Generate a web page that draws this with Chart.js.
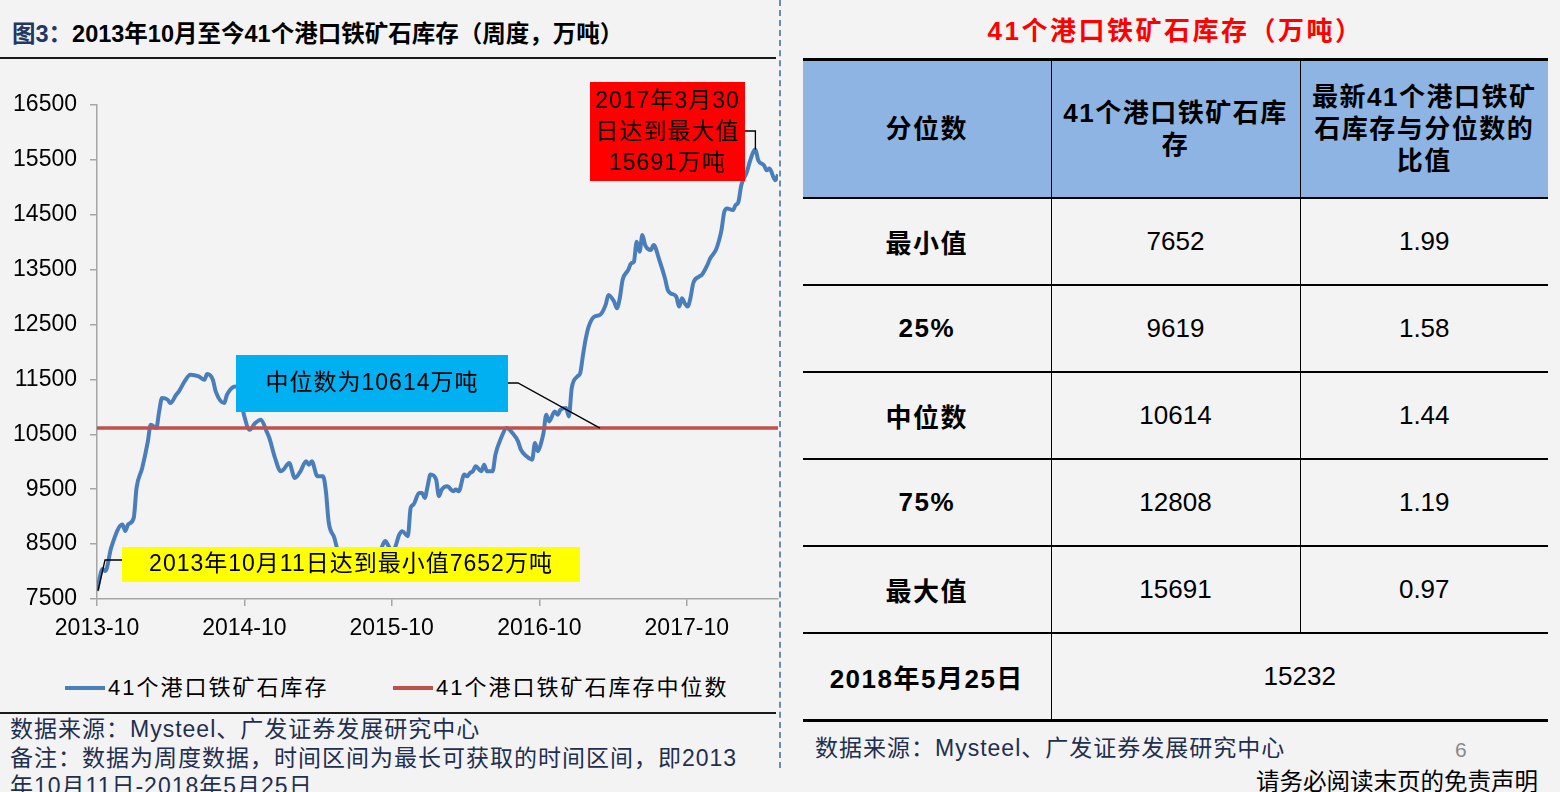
<!DOCTYPE html>
<html><head><meta charset="utf-8">
<script src="https://cdn.jsdelivr.net/npm/chart.js@4.4.1/dist/chart.umd.min.js"></script>
<style>
body{margin:0;width:1560px;height:792px;background:#f3f3f3;position:relative;overflow:hidden;font-family:"Liberation Sans",Arial,"Noto Sans CJK SC",sans-serif;color:#000;}
.abs{position:absolute;white-space:nowrap;}
#title{left:12px;top:15px;font-size:23.5px;font-weight:bold;}
#title .fig{color:#1f3864;}
.hline{position:absolute;height:2px;background:#1a1a1a;}
#vdash{position:absolute;left:779px;top:0;height:768px;border-left:2px dashed #6a8bb5;}
.src{font-size:23px;color:#1f2f4f;letter-spacing:1px;}
#chartBox{position:absolute;left:0;top:60px;width:780px;height:610px;}
.legItem{position:absolute;top:675px;font-size:22px;height:26px;line-height:26px;letter-spacing:2px;}
.legItem .sw{position:absolute;top:11px;width:40px;height:4px;}
#rtitle{left:803px;width:745px;top:10px;text-align:center;font-size:26px;font-weight:bold;color:#ff0000;letter-spacing:2.5px;}
table{position:absolute;left:803px;top:58px;width:745px;border-collapse:collapse;table-layout:fixed;}
td{padding:0;text-align:center;vertical-align:middle;border-left:1.5px solid #000;border-right:1.5px solid #000;border-top:2px solid #000;border-bottom:2px solid #000;font-size:26px;}
tr td:first-child{border-left:none;}
tr td:last-child{border-right:none;}
tr.head td{background:#8db4e2;font-weight:bold;height:136px;line-height:32px;letter-spacing:1.5px;border-top:3px solid #000;border-bottom:2.5px solid #000;}
tr.body td{height:85px;}
tr.last td{border-bottom:3px solid #000;}
td.lab{font-weight:bold;letter-spacing:1.5px;}
</style></head><body>
<div id="vdash"></div>
<div class="abs" id="title"><span class="fig">图3：</span>2013年10月至今41个港口铁矿石库存（周度，万吨）</div>
<div class="hline" style="left:0;top:57px;width:776px;"></div>
<div id="chartBox"><canvas id="c" width="780" height="610"></canvas></div>
<div id="legend"></div>
<div class="hline" style="left:0;top:712px;width:776px;"></div>
<div class="abs src" style="left:10px;top:710px;">数据来源：Mysteel、广发证券发展研究中心</div>
<div class="abs src" style="left:10px;top:739px;">备注：数据为周度数据，时间区间为最长可获取的时间区间，即2013</div>
<div class="abs src" style="left:10px;top:767px;">年10月11日-2018年5月25日</div>

<div class="abs" id="rtitle">41个港口铁矿石库存（万吨）</div>
<table id="tbl"></table>
<div class="abs src" style="left:815px;top:729px;">数据来源：Mysteel、广发证券发展研究中心</div>
<div class="abs" style="left:1455px;top:738px;font-size:21px;color:#8a8a8a;">6</div>
<div class="abs" style="left:1256px;top:763px;font-size:23.5px;">请务必阅读末页的免责声明</div>

<script>
// ---- data ----
// weeks since 2013-10-11 (weekly data, last point 2018-05-25)
const weekNo = [0,2,3,5,9,10,11,13,14,16,18,19,21,22,23,25,26,28,29,31,33,36,38,39,41,42,45,46,49,50,52,54,56,58,60,61,63,65,66,68,70,72,74,75,76,78,80,81,82,84,85,88,91,95,98,100,102,104,105,107,108,110,111,112,114,115,116,117,118,120,121,122,124,126,127,128,130,131,132,133,134,136,137,138,140,141,143,145,147,149,150,152,154,155,156,157,158,159,160,162,163,164,166,167,168,170,171,172,173,174,176,178,180,181,183,184,185,186,188,189,190,191,192,193,194,196,197,199,201,202,203,205,206,207,208,209,210,211,213,214,216,217,219,220,221,222,223,225,226,227,228,230,231,233,234,236,237,238,240,241];
const inventory = [7652,8045,8010,8433,8858,8740,8858,8979,9524,9888,10373,10676,10615,10918,11160,11130,11070,11221,11282,11464,11585,11555,11494,11597,11494,11282,11070,11221,11373,11350,10858,10585,10706,10767,10555,10433,10070,9827,9858,9979,9706,9827,10009,9948,10009,9736,9736,9464,8900,8615,8420,8200,8050,8100,8250,8350,8555,8409,8409,8676,8736,8645,9161,9221,9433,9433,9342,9555,9767,9676,9373,9494,9555,9464,9494,9464,9767,9736,9797,9827,9918,9827,9948,9827,9827,10130,10433,10615,10524,10373,10221,10100,10039,10342,10191,10312,10520,10858,10736,10918,10858,10948,10979,10827,11343,11555,11615,11948,12252,12464,12645,12676,12858,13039,12918,12797,12979,13312,13494,13615,13645,14009,13827,14130,13948,13858,13948,13676,13342,13130,13070,13009,12827,12979,12888,12827,12979,13252,13373,13403,13585,13706,13858,14009,14221,14555,14615,14585,14676,14736,15039,15282,15464,15691,15494,15403,15312,15342,15130,15232];
const medianValue = 10614;
const seriesNames = ['41个港口铁矿石库存','41个港口铁矿石库存中位数'];
const xTickWeeks = [0, 52.14, 104.29, 156.57, 208.71];
const xTickLabels = ['2013-10','2014-10','2015-10','2016-10','2017-10'];
const yMin = 7500, yMax = 16500, yStep = 1000;
const minWeek = 0, minValue = 7652, maxWeek = 233, maxValue = 15691, medianPointerWeek = 178;
const noteMax = ['2017年3月30','日达到最大值','15691万吨'];
const noteMedian = ['中位数为10614万吨'];
const noteMin = ['2013年10月11日达到最小值7652万吨'];

// table data
const headers = ['分位数','41个港口铁矿石库<br>存','最新41个港口铁矿<br>石库存与分位数的<br>比值'];
const quantileNames = ['最小值','25%','中位数','75%','最大值'];
const quantileValues = [7652, 9619, 10614, 12808, 15691];
const ratios = ['1.99','1.58','1.44','1.19','0.97'];
const latestDate = '2018年5月25日';
const latestValue = 15232;

// ---- table ----
let html = '<colgroup><col style="width:248px"><col style="width:249px"><col style="width:248px"></colgroup>';
html += '<tr class="head">' + headers.map(h => '<td>' + h + '</td>').join('') + '</tr>';
quantileNames.forEach((n, i) => {
  html += '<tr class="body"><td class="lab">' + n + '</td><td>' + quantileValues[i] + '</td><td>' + ratios[i] + '</td></tr>';
});
html += '<tr class="body last"><td class="lab">' + latestDate + '</td><td colspan="2">' + latestValue + '</td></tr>';
document.getElementById('tbl').innerHTML = html;

// ---- chart ----
const BLUE = '#4a7ebb', RED = '#c0504d', AXIS = '#a6a6a6';
const FONT_NUM = '"Liberation Sans", Arial, sans-serif';
const FONT_CJK = '"Liberation Sans", Arial, "Noto Sans CJK SC", sans-serif';

const notesPlugin = {
  id: 'notes',
  afterDatasetsDraw(chart) {
    const ctx = chart.ctx, xs = chart.scales.x, ys = chart.scales.y;
    ctx.save();
    function box(x, y, w, h, fill, lines, lh, ty) {
      ctx.fillStyle = fill;
      ctx.fillRect(x, y, w, h);
      ctx.fillStyle = '#000';
      ctx.font = '23px ' + FONT_CJK;
      if ('letterSpacing' in ctx) ctx.letterSpacing = '1px';
      ctx.textAlign = 'center';
      ctx.textBaseline = 'middle';
      lines.forEach((t, i) => ctx.fillText(t, x + w / 2, ty + i * lh));
    }
    function leader(pts) {
      ctx.strokeStyle = '#000';
      ctx.lineWidth = 1.3;
      ctx.beginPath();
      ctx.moveTo(pts[0][0], pts[0][1]);
      for (let i = 1; i < pts.length; i++) ctx.lineTo(pts[i][0], pts[i][1]);
      ctx.stroke();
    }
    // max note
    const mx = xs.getPixelForValue(maxWeek), my = ys.getPixelForValue(maxValue);
    box(590, 22, 155, 99, '#ff0000', noteMax, 31, 42);
    leader([[745, 71], [mx, 71], [mx, my]]);
    // median note
    const dx = xs.getPixelForValue(medianPointerWeek), dy = ys.getPixelForValue(medianValue);
    box(236, 295, 272, 57, '#00b0f0', noteMedian, 0, 324);
    leader([[508, 323], [518, 323], [dx, dy]]);
    // min note
    const nx = xs.getPixelForValue(minWeek), ny = ys.getPixelForValue(minValue);
    box(122, 487, 458, 35, '#ffff00', noteMin, 0, 505);
    leader([[122, 500], [105, 500], [nx + 1, ny]]);
    ctx.restore();
  }
};

const chart = new Chart(document.getElementById('c'), {
  type: 'line',
  data: {
    datasets: [
      {
        label: seriesNames[0],
        data: weekNo.map((w, i) => ({ x: w, y: inventory[i] })),
        borderColor: BLUE, backgroundColor: BLUE,
        borderWidth: 4, pointRadius: 0, cubicInterpolationMode: 'monotone', order: 1
      },
      {
        label: seriesNames[1],
        data: [{ x: weekNo[0], y: medianValue }, { x: weekNo[weekNo.length - 1], y: medianValue }],
        borderColor: RED, backgroundColor: RED,
        borderWidth: 3.5, pointRadius: 0, order: 0
      }
    ]
  },
  options: {
    responsive: false, animation: false, devicePixelRatio: 1,
    layout: { padding: { top: 45, right: 2, left: 0, bottom: 0 } },
    plugins: { legend: { display: false }, tooltip: { enabled: false } },
    scales: {
      x: {
        type: 'linear', min: weekNo[0], max: weekNo[weekNo.length - 1],
        afterBuildTicks: s => { s.ticks = xTickWeeks.map(v => ({ value: v })); },
        afterFit: s => { s.height = 71; },
        ticks: {
          autoSkip: false, maxRotation: 0, padding: 9, color: '#000',
          font: { family: FONT_NUM, size: 23 },
          callback: (v, i) => xTickLabels[i]
        },
        grid: { drawOnChartArea: false, drawTicks: true, tickLength: 7, color: AXIS, lineWidth: 1.5 },
        border: { display: true, color: AXIS, width: 1.5 }
      },
      y: {
        min: yMin, max: yMax,
        afterFit: s => { s.width = 97; },
        ticks: {
          stepSize: yStep, padding: 13, color: '#000',
          font: { family: FONT_NUM, size: 23 },
          callback: v => String(v)
        },
        grid: { drawOnChartArea: false, drawTicks: true, tickLength: 7, color: AXIS, lineWidth: 1.5 },
        border: { display: true, color: AXIS, width: 1.5 }
      }
    }
  },
  plugins: [notesPlugin]
});

// legend built from the chart datasets
const legendPos = [65, 393];
document.getElementById('legend').innerHTML = chart.data.datasets.map((d, i) =>
  '<div class="legItem" style="left:' + legendPos[i] + 'px"><span class="sw" style="left:0;background:' + d.borderColor + '"></span>' +
  '<span style="margin-left:43px">' + d.label + '</span></div>'
).join('');
</script>
</body></html>
